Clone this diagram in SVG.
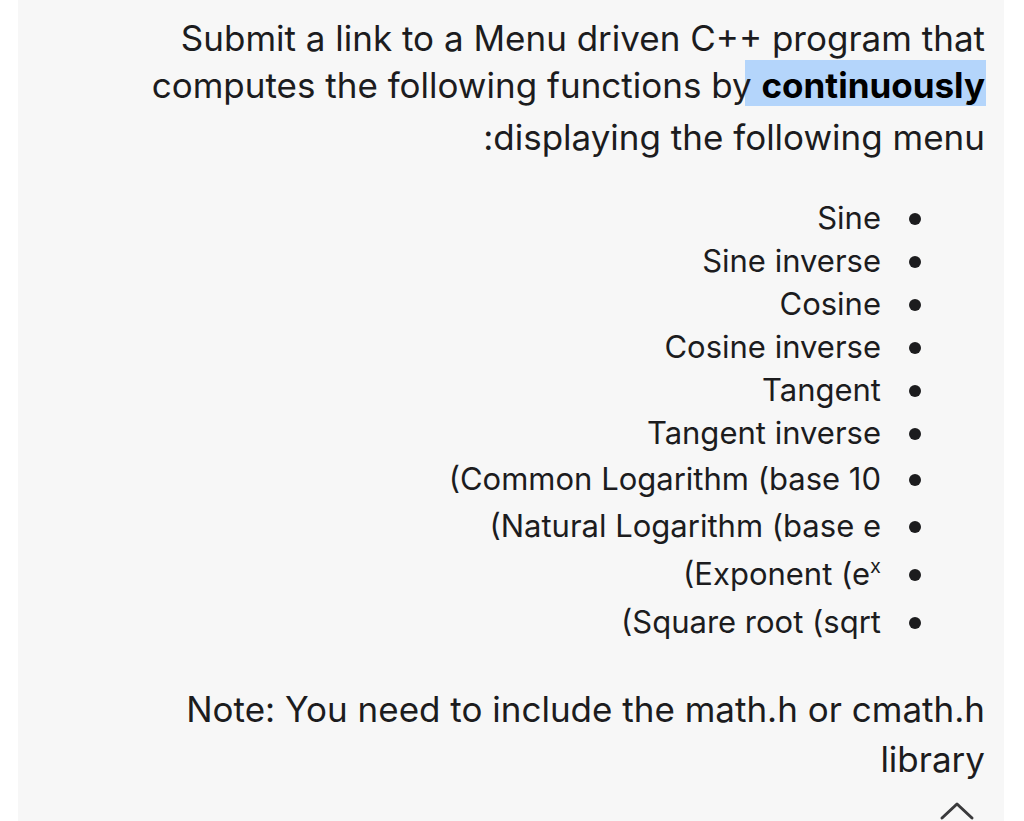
<svg xmlns="http://www.w3.org/2000/svg" width="1024" height="821" viewBox="0 0 1024 821">
<style>
text{font-family:Inter,"Liberation Sans",Arial,sans-serif;fill:#1c1c1e;text-anchor:end}
.h{font-size:35px}
.b{font-size:31px}
.d{fill:#1c1c1e}
</style>
<rect width="1024" height="821" fill="#ffffff"/>
<rect x="18" y="0" width="986" height="821" fill="#f7f7f7"/>
<rect x="745" y="60" width="241" height="46" fill="#b4d5fb"/>
<text class="h" x="985" y="51">Submit a link to a Menu driven C++ program that</text>
<text class="h" x="985" y="98">computes the following functions by <tspan font-weight="bold" fill="#000">continuously</tspan></text>
<text class="h" x="985" y="150">:displaying the following menu</text>
<g>
<text class="b" x="881" y="229">Sine</text>
<text class="b" x="881" y="272">Sine inverse</text>
<text class="b" x="881" y="315">Cosine</text>
<text class="b" x="881" y="358">Cosine inverse</text>
<text class="b" x="881" y="401">Tangent</text>
<text class="b" x="881" y="444">Tangent inverse</text>
<text class="b" x="881" y="490">(Common Logarithm (base 10</text>
<text class="b" x="881" y="537">(Natural Logarithm (base e</text>
<text class="b" x="881" y="585">(Exponent (e<tspan font-size="20" dy="-12">x</tspan></text>
<text class="b" x="881" y="633">(Square root (sqrt</text>
</g>
<g class="d">
<circle cx="915" cy="219" r="6"/>
<circle cx="915" cy="262" r="6"/>
<circle cx="915" cy="305" r="6"/>
<circle cx="915" cy="348" r="6"/>
<circle cx="915" cy="391" r="6"/>
<circle cx="915" cy="434" r="6"/>
<circle cx="915" cy="480" r="6"/>
<circle cx="915" cy="527" r="6"/>
<circle cx="915" cy="575" r="6"/>
<circle cx="915" cy="623" r="6"/>
</g>
<text class="h" x="985" y="722">Note: You need to include the math.h or cmath.h</text>
<text class="h" x="985" y="772">library</text>
<polyline points="942,818 957,804 972,818" fill="none" stroke="#3a3a3c" stroke-width="3" stroke-linecap="round" stroke-linejoin="round"/>
</svg>
